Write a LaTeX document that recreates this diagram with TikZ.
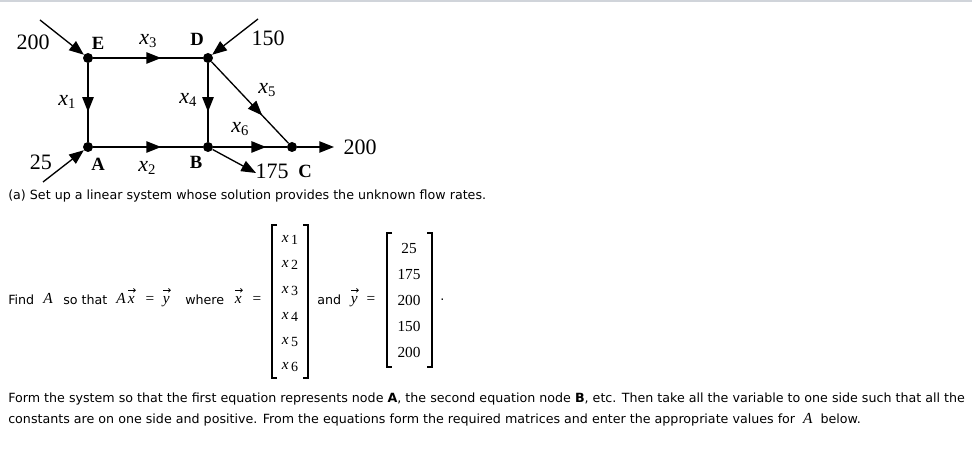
\documentclass[tikz,border=0pt]{standalone}
\usepackage{fontspec}
\usetikzlibrary{arrows.meta,decorations.markings}
\newfontfamily\vsans{DejaVu Sans}
\newfontfamily\tms{Liberation Serif}
\newcommand{\fsz}[1]{\fontsize{#1}{#1}\selectfont}
% diagram variable label: big italic x with subscript
\newcommand{\dx}[1]{{\tms\fsz{16.5pt}\itshape x}\raisebox{-0.45ex}{\tms\fsz{11pt}#1}}
% matrix variable
\newcommand{\mx}[1]{{\tms\fsz{11.5pt}\itshape x}\,\raisebox{-0.35ex}{\tms\fsz{10.5pt}#1}}
\newcommand{\vx}[1]{\tikz[baseline=(v.base)]{\node[inner sep=0,outer sep=0](v){\tms\fsz{11.5pt}\itshape #1};\draw[-{To[length=2pt,width=3.2pt]},line width=0.55pt]([xshift=-2.2pt,yshift=5pt]v.north)--([xshift=3.4pt,yshift=5pt]v.north);}}
\tikzset{
  dot/.style={circle,fill=black,inner sep=0pt,minimum size=7.5pt},
  ln/.style={line width=1pt},
  tip/.style={-{Triangle[length=11pt,width=8.5pt]}},
  flow/.style={ln,postaction={decorate},decoration={markings,mark=at position #1 with {\arrow{Triangle[length=11pt,width=8.5pt]}}}},
  num/.style={inner sep=0pt,font=\tms\fsz{16.5pt}},
  let/.style={inner sep=0pt,font=\tms\bfseries\fsz{14pt}},
  var/.style={inner sep=0pt},
  eqv/.style={inner sep=0pt,anchor=base},
  txt/.style={inner sep=0pt,anchor=west,font=\vsans\fsz{9.5pt}},
  ent/.style={inner sep=0pt},
  yent/.style={inner sep=0pt,font=\tms\fsz{11.5pt}},
  brk/.style={line width=0.9pt},
}
\begin{document}
\begin{tikzpicture}[x=0.75pt,y=-0.75pt]
\useasboundingbox (0,0) rectangle (972,452);
\draw[color={rgb,255:red,208;green,212;blue,218},line width=1.5pt] (0,0.8) -- (972,0.8);
% nodes
\node[dot] (E) at (88,58) {};
\node[dot] (D) at (208,58) {};
\node[dot] (A) at (88,147) {};
\node[dot] (B) at (208,147) {};
\node[dot] (C) at (292,147) {};
\coordinate (inE) at (40,20);
\coordinate (inD) at (258,19);
\coordinate (inA) at (43,182);
\coordinate (outC) at (334,147);
\coordinate (outB) at (256,173);
% edges
\draw[flow=0.62] (E) -- (D);
\draw[flow=0.62] (E) -- (A);
\draw[flow=0.62] (A) -- (B);
\draw[flow=0.62] (D) -- (B);
\draw[flow=0.66] (D) -- (C);
\draw[flow=0.72] (B) -- (C);
\draw[ln,tip] (inE) -- (E);
\draw[ln,tip] (inD) -- (D);
\draw[ln,tip] (inA) -- (A);
\draw[ln,tip] (C) -- (outC);
\draw[ln,tip] (B) -- (outB);
% labels
\node[num] (l200a) at (33,42) {200};
\node[let] (lE) at (98,43) {E};
\node[var] (lx3) at (148,41) {\dx{3}};
\node[let] (lD) at (197,39) {D};
\node[num] (l150) at (268,38) {150};
\node[var] (lx1) at (67,102) {\dx{1}};
\node[var] (lx4) at (188,100) {\dx{4}};
\node[var] (lx5) at (267,90) {\dx{5}};
\node[var] (lx6) at (240,129) {\dx{6}};
\node[num] (l200b) at (360,147) {200};
\node[num] (l25) at (41,162) {25};
\node[let] (lA) at (98,164) {A};
\node[var] (lx2) at (147,168) {\dx{2}};
\node[let] (lB) at (196,162) {B};
\node[num] (l175) at (272,171) {175};
\node[let] (lC) at (305,171) {C};
% text
\node[txt] (ta) at (8,196) {(a) Set up a linear system whose solution provides the unknown flow rates.};
\node[txt] (tfind) at (8,300) {Find};
\node[eqv] (tA1) at (48,304) {\tms\fsz{11.5pt}\itshape A};
\node[txt] (tso) at (63,300) {so that};
\node[eqv] (tA2) at (121,304) {\tms\fsz{11.5pt}\itshape A};
\node[eqv] (tx1) at (132,304) {\vx{x}};
\node[eqv] (teq1) at (150,304) {\tms\fsz{11.5pt}=};
\node[eqv] (ty1) at (167,304) {\vx{y}};
\node[txt] (twh) at (185,300) {where};
\node[eqv] (tx2) at (239,304) {\vx{x}};
\node[eqv] (teq2) at (257,304) {\tms\fsz{11.5pt}=};
% x matrix
\draw[brk] (277,225) -- (272,225) -- (272,378) -- (277,378);
\draw[brk] (303,225) -- (308,225) -- (308,378) -- (303,378);
\node[ent] (m1) at (290,240) {\mx{1}};
\node[ent] (m2) at (290,265) {\mx{2}};
\node[ent] (m3) at (290,291) {\mx{3}};
\node[ent] (m4) at (290,317) {\mx{4}};
\node[ent] (m5) at (290,342) {\mx{5}};
\node[ent] (m6) at (290,367) {\mx{6}};
\node[txt] (tand) at (317,300) {and};
\node[eqv] (ty2) at (355,304) {\vx{y}};
\node[eqv] (teq3) at (371,304) {\tms\fsz{11.5pt}=};
% y matrix
\draw[brk] (392,233) -- (387,233) -- (387,367) -- (392,367);
\draw[brk] (427,233) -- (432,233) -- (432,367) -- (427,367);
\node[yent] (y1) at (409,249) {25};
\node[yent] (y2) at (409,275) {175};
\node[yent] (y3) at (409,300) {200};
\node[yent] (y4) at (409,326) {150};
\node[yent] (y5) at (409,352) {200};
\node[txt] (tdot) at (440,300) {.};
% bottom text
\node[txt] (tb1) at (8,399) {Form the system so that the first equation represents node \textbf{A}, the second equation node \textbf{B}, etc. Then take all the variable to one side such that all the};
\node[txt] (tb2) at (8,420) {constants are on one side and positive. From the equations form the required matrices and enter the appropriate values for \ {\tms\fsz{11.5pt}\itshape A} \ below.};
\end{tikzpicture}
\end{document}
